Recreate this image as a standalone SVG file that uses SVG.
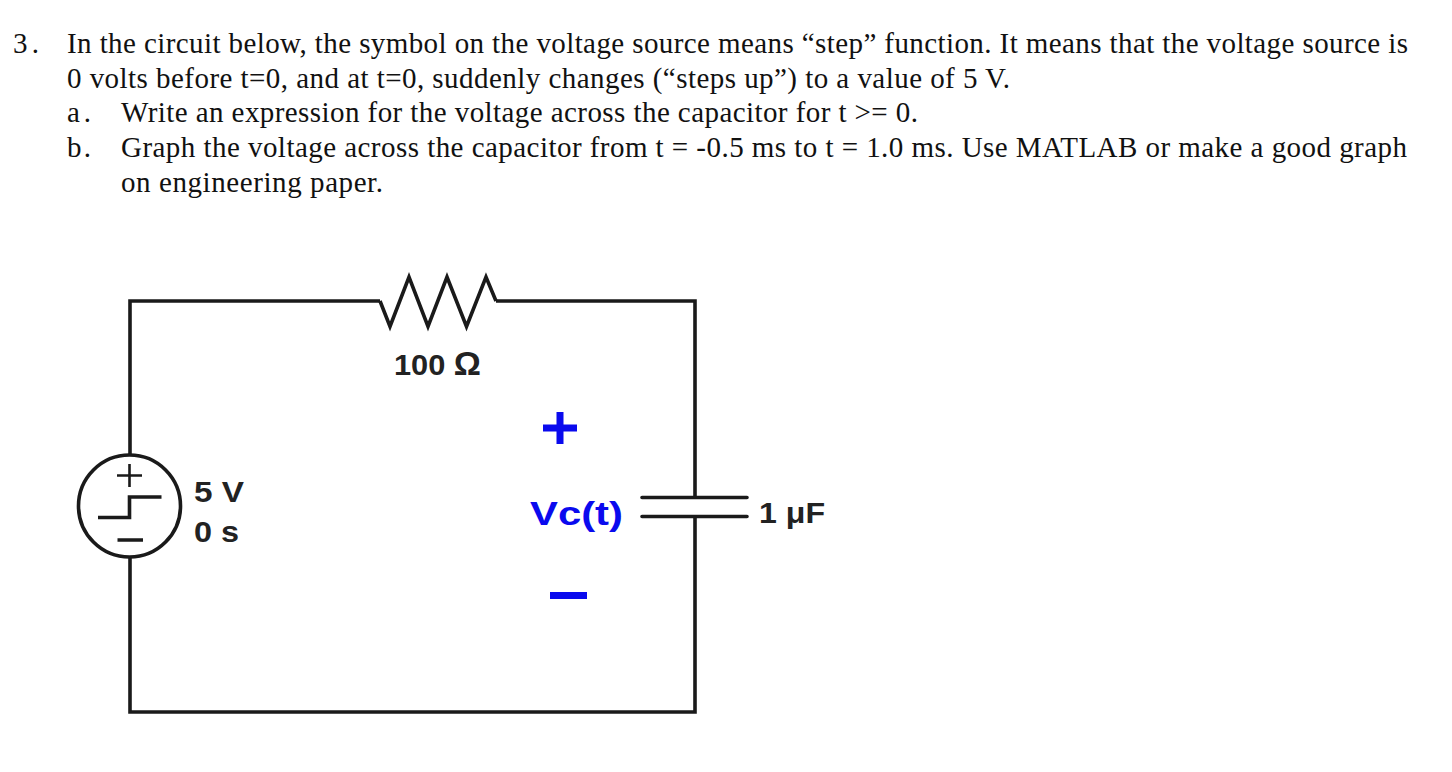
<svg xmlns="http://www.w3.org/2000/svg" width="1452" height="772" viewBox="0 0 1452 772">
<style>
.q{font-family:"Liberation Serif","Times New Roman",serif;font-size:29px;fill:#111}
.l{font-family:"Liberation Sans",Arial,sans-serif;font-size:30px;font-weight:bold;fill:#222}
.b{font-family:"Liberation Sans",Arial,sans-serif;font-size:33px;font-weight:bold;fill:#0a0aee}
.w{fill:none;stroke:#1a1a1a;stroke-width:3.6}
</style>
<rect width="1452" height="772" fill="#fff"/>
<g id="question">
<text class="q" x="13" y="53" textLength="26">3.</text>
<text class="q" x="67" y="53" textLength="1341">In the circuit below, the symbol on the voltage source means “step” function. It means that the voltage source is</text>
<text class="q" x="67" y="88" textLength="943">0 volts before t=0, and at t=0, suddenly changes (“steps up”) to a value of 5 V.</text>
<text class="q" x="67" y="122" textLength="24">a.</text>
<text class="q" x="121" y="122" textLength="797">Write an expression for the voltage across the capacitor for t &gt;= 0.</text>
<text class="q" x="67" y="157" textLength="24">b.</text>
<text class="q" x="121" y="157" textLength="1286">Graph the voltage across the capacitor from t = -0.5 ms to t = 1.0 ms. Use MATLAB or make a good graph</text>
<text class="q" x="121" y="192" textLength="262">on engineering paper.</text>
</g>
<g id="connectors">
<path class="w" d="M130 455V301H380M496 301H695V497M695 517V712H130V557"/>
</g>
<g id="source">
<circle class="w" cx="129.5" cy="506" r="51"/>
<path class="w" style="stroke-width:2.6" d="M117 475.5H142M129.5 464V487"/>
<path class="w" d="M98 517.5H129.5V497H161.5M117.5 540H143"/>
<text class="l" x="194" y="502" textLength="50" lengthAdjust="spacingAndGlyphs">5 V</text>
<text class="l" x="194" y="542" textLength="45" lengthAdjust="spacingAndGlyphs">0 s</text>
</g>
<g id="resistor">
<path class="w" d="M380 301L390 326.5L409 277L428 326.5L447 277L466.5 326.5L486 277L496 301"/>
<text class="l" x="394" y="375" textLength="87" lengthAdjust="spacingAndGlyphs">100 <tspan font-size="33">Ω</tspan></text>
</g>
<g id="capacitor">
<path class="w" stroke-linecap="round" d="M642 497.5H747M642 516.5H747"/>
<text class="l" x="759" y="523" textLength="66" lengthAdjust="spacingAndGlyphs">1 μF</text>
</g>
<g id="vc-label">
<path d="M560 412V444M543 428H577M550 595.5H587" fill="none" stroke="#0a0aee" stroke-width="7"/>
<text class="b" x="530" y="525" textLength="93" lengthAdjust="spacingAndGlyphs">Vc(t)</text>
</g>
</svg>
